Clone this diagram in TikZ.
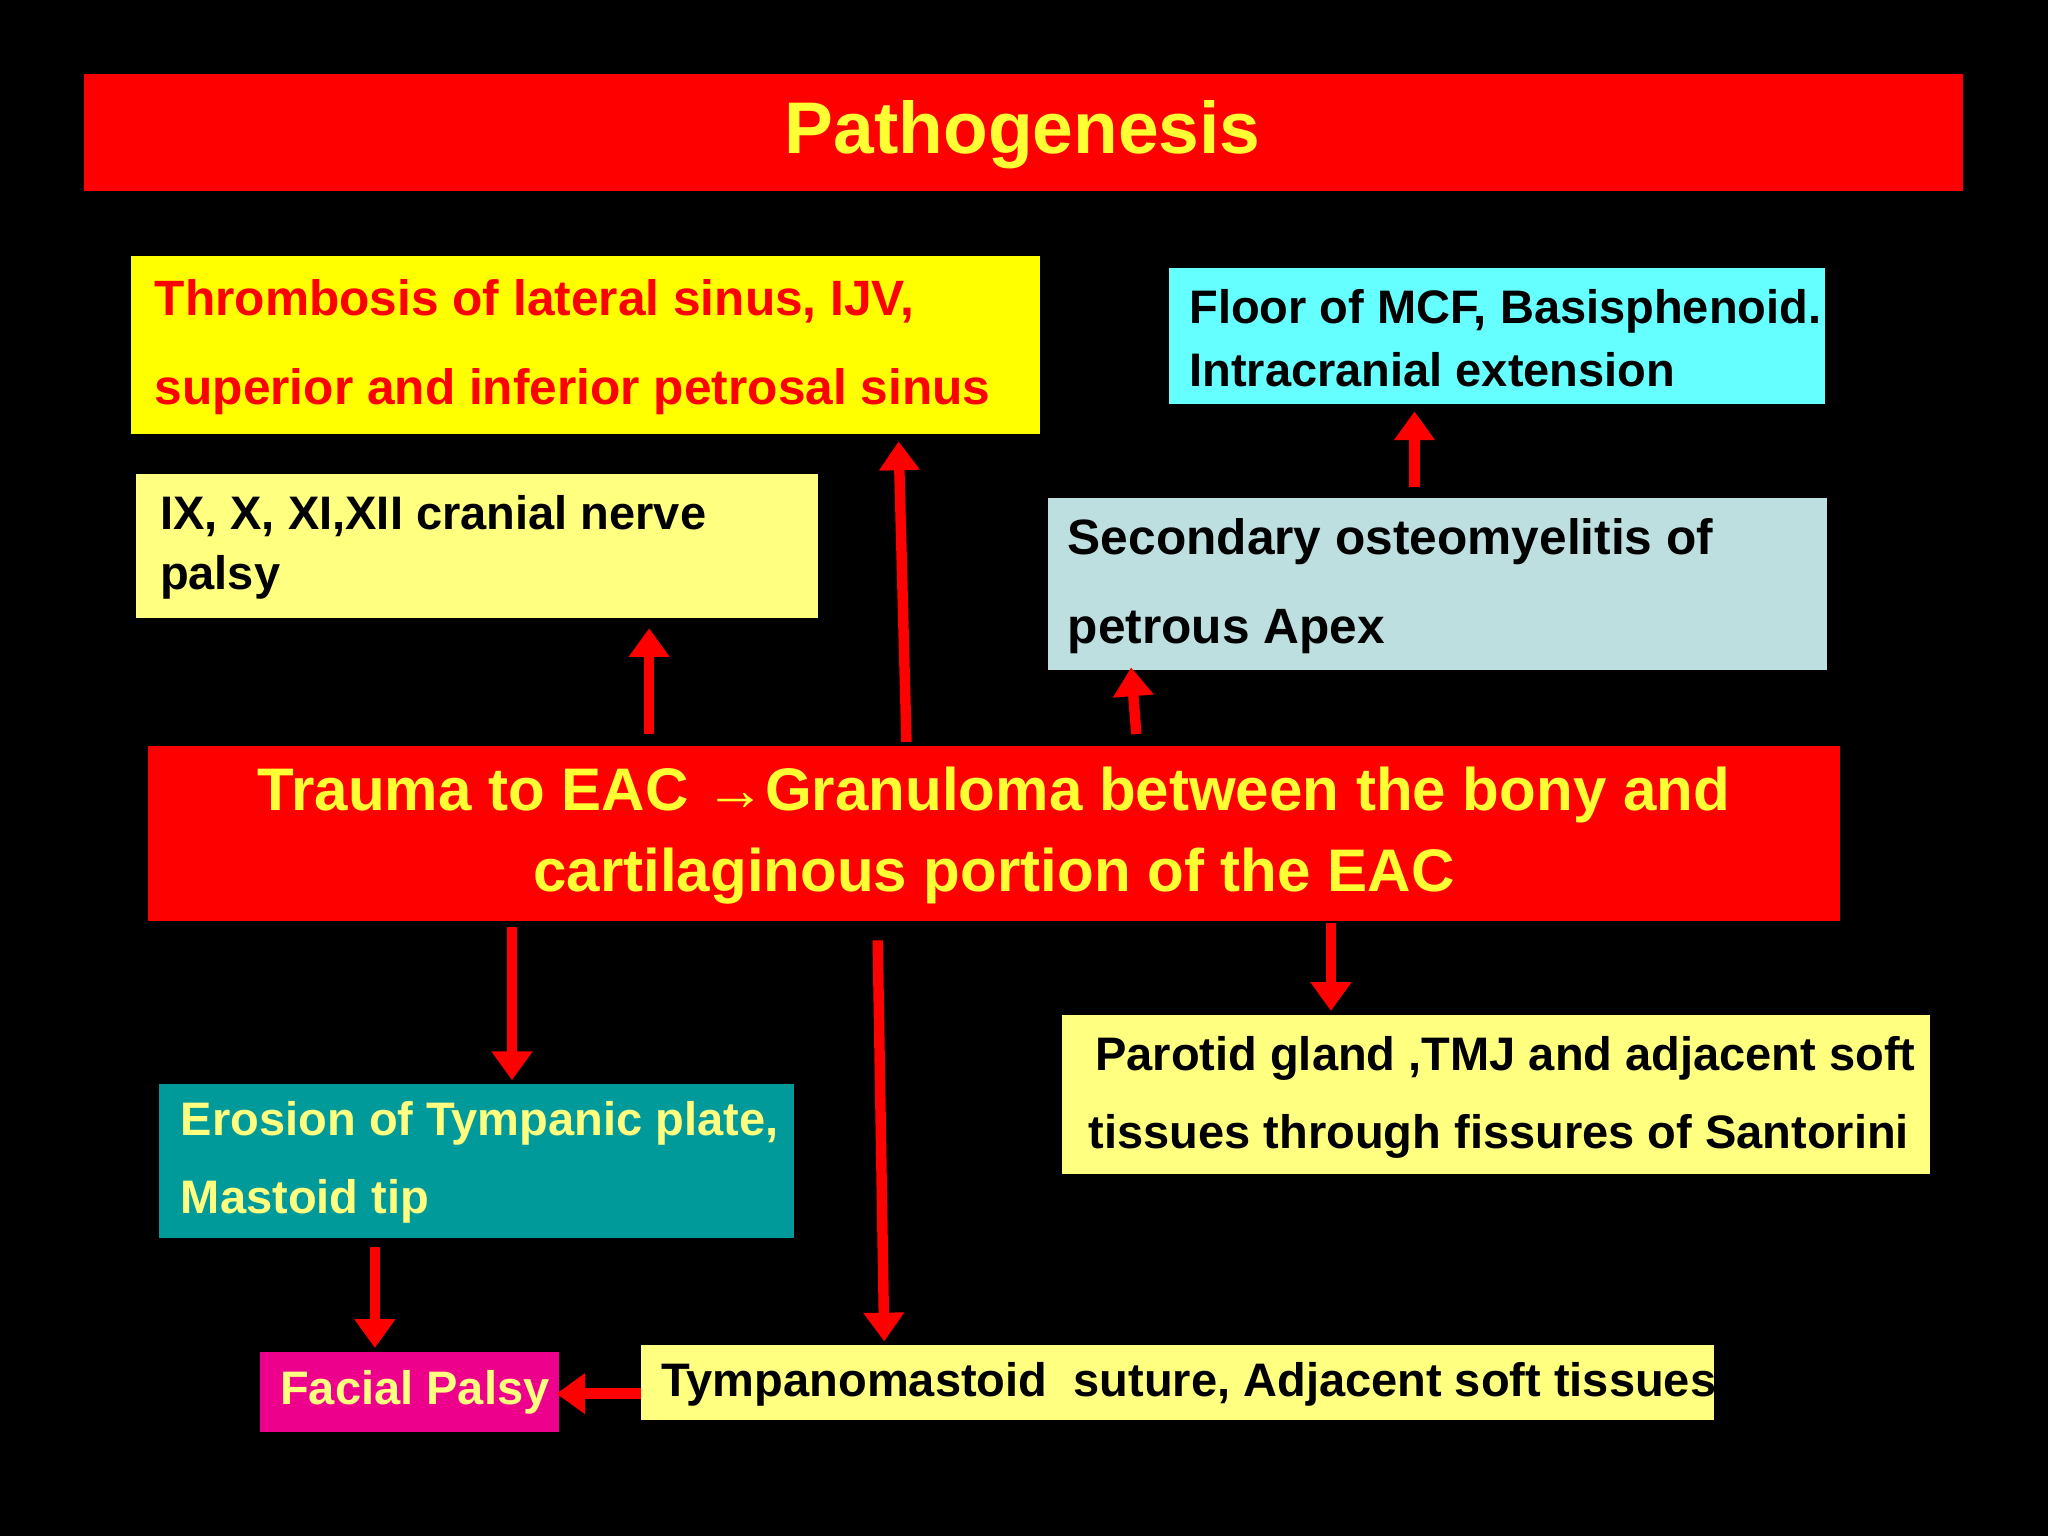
\documentclass[tikz,border=0pt]{standalone}
\usepackage{fontspec}
\setmainfont{Liberation Sans}
\usetikzlibrary{arrows.meta}
\definecolor{ly}{HTML}{FFFF80}
\definecolor{yy}{HTML}{FFFF00}
\definecolor{cy}{HTML}{66FFFF}
\definecolor{lb}{HTML}{BEDFE0}
\definecolor{tl}{HTML}{009A9A}
\definecolor{tx}{HTML}{FFFF33}
\definecolor{rr}{HTML}{FF0000}
\begin{document}
\begin{tikzpicture}[x=1pt,y=-1pt,
  t/.style={anchor=west,font=\bfseries,align=left},
  arr/.style={draw=rr,line width=8pt,-{Triangle[length=22pt,width=30pt]}}]
\fill[black] (0,0) rectangle (1568,1176);
\useasboundingbox (0,0) rectangle (1568,1176);
\fill[rr] (64,57) rectangle (1503,146);
\node[font=\bfseries\fontsize{56}{60}\selectfont,text=tx] (title) at (783,103) {Pathogenesis};
% boxes
\fill[yy] (100,196) rectangle (796,332);
\node[t,text=rr,font=\bfseries\fontsize{38}{68}\selectfont] (thr) at (115,266) {Thrombosis of lateral sinus, IJV,\\superior and inferior petrosal sinus};
\fill[cy] (895,205) rectangle (1397,309);
\node[t,font=\bfseries\fontsize{36}{48}\selectfont] (mcf) at (907,259) {Floor of MCF, Basisphenoid.\\Intracranial extension};
\fill[ly] (104,363) rectangle (626,473);
\node[t,font=\bfseries\fontsize{36}{46}\selectfont] (ix) at (119,419) {IX, X, XI,XII cranial nerve\\palsy};
\fill[lb] (802,381) rectangle (1399,513);
\node[t,font=\bfseries\fontsize{38}{68}\selectfont] (sec) at (814,449) {Secondary osteomyelitis of\\petrous Apex};
\fill[rr] (113,571) rectangle (1409,705);
\node[font=\bfseries\fontsize{46}{62}\selectfont,text=tx,align=center] (tr) at (761,640) {Trauma to EAC →Granuloma between the bony and\\cartilaginous portion of the EAC};
\fill[ly] (813,777) rectangle (1478,899);
\node[t,font=\bfseries\fontsize{36}{60}\selectfont,align=center] (par) at (825,840) {\ Parotid gland ,TMJ and adjacent soft\\tissues through fissures of Santorini};
\fill[tl] (122,830) rectangle (608,948);
\node[t,text=ly,font=\bfseries\fontsize{36}{60}\selectfont] (ero) at (135,890) {Erosion of Tympanic plate,\\Mastoid tip};
\fill[magenta] (199,1035) rectangle (428,1096);
\node[t,text=ly,font=\bfseries\fontsize{36}{40}\selectfont] (fac) at (211,1066) {Facial Palsy};
\fill[ly] (491,1030) rectangle (1312,1087);
\node[t,font=\bfseries\fontsize{36}{40}\selectfont] (tym) at (503,1060) {Tympanomastoid\ \ suture, Adjacent soft tissues};
% arrows
\coordinate (a1) at (497,562); \coordinate (b1) at (497,481);
\coordinate (a2) at (694,568); \coordinate (b2) at (688,338);
\coordinate (a3) at (870,562); \coordinate (b3) at (866,511);
\coordinate (a4) at (1083,373); \coordinate (b4) at (1083,315);
\coordinate (a5) at (392,710); \coordinate (b5) at (392,827);
\coordinate (a6) at (672,720); \coordinate (b6) at (677,1027);
\coordinate (a7) at (1019,707); \coordinate (b7) at (1019,774);
\coordinate (a8) at (287,955); \coordinate (b8) at (287,1032);
\coordinate (a9) at (491,1067); \coordinate (b9) at (426,1067);
\foreach \i in {1,...,9} \draw[arr] (a\i) -- (b\i);
\end{tikzpicture}
\end{document}
